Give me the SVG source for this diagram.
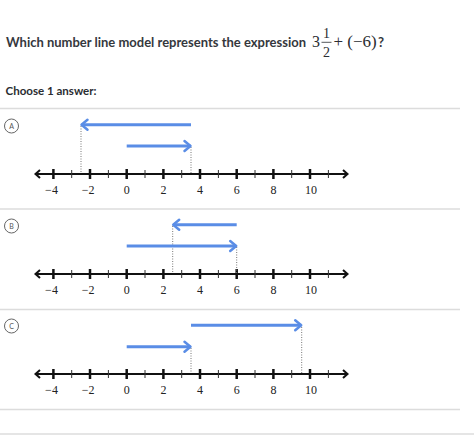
<svg xmlns="http://www.w3.org/2000/svg" xmlns:xlink="http://www.w3.org/1999/xlink" width="474" height="439" viewBox="0 0 474 439">
<style>
.title{font-family:Lato,"Liberation Sans",sans-serif;font-weight:bold;font-size:13.2px;fill:#35383d}
.choose{font-family:Lato,"Liberation Sans",sans-serif;font-weight:bold;font-size:11.7px;fill:#2a2d31}
.num{font-family:"Liberation Serif","DejaVu Serif",serif;font-size:12px;fill:#222;text-anchor:middle}
.sep{stroke:#dcdcdc;stroke-width:1.5}
.axis{stroke:#111;stroke-width:2;fill:none}
.major{stroke:#111;stroke-width:2.5}
.minor{stroke:#333;stroke-width:1}
.blue{stroke:#5a8de6;stroke-width:3;fill:none;marker-end:url(#bh)}
.dot{stroke:#777;stroke-width:1;stroke-dasharray:1,1.5}
.circ{fill:#fff;stroke:#666;stroke-width:1}
.let{font-family:Lato,"Liberation Sans",sans-serif;font-size:7px;fill:#555;text-anchor:middle}
</style>
<defs>
<marker id="bh" markerUnits="userSpaceOnUse" markerWidth="16" markerHeight="16" viewBox="-10 -8 16 16" refX="0" refY="0" orient="auto">
<path d="M-6,-5 L0,0 L-6,5" fill="none" stroke="#5a8de6" stroke-width="2.5" stroke-linejoin="round" stroke-linecap="round"/>
</marker>
<g id="axis">
<line class="axis" x1="36" y1="0" x2="347" y2="0"/>
<path class="axis" d="M40,-4 L35.5,0 L40,4 M343,-4 L347.5,0 L343,4"/>
<g class="major">
<line x1="53.4" y1="-5" x2="53.4" y2="5"/>
<line x1="90" y1="-5" x2="90" y2="5"/>
<line x1="126.7" y1="-5" x2="126.7" y2="5"/>
<line x1="163.4" y1="-5" x2="163.4" y2="5"/>
<line x1="200" y1="-5" x2="200" y2="5"/>
<line x1="236.7" y1="-5" x2="236.7" y2="5"/>
<line x1="273.4" y1="-5" x2="273.4" y2="5"/>
<line x1="310" y1="-5" x2="310" y2="5"/>
</g>
<g class="minor">
<line x1="71.7" y1="-4" x2="71.7" y2="4"/>
<line x1="108.4" y1="-4" x2="108.4" y2="4"/>
<line x1="145" y1="-4" x2="145" y2="4"/>
<line x1="181.7" y1="-4" x2="181.7" y2="4"/>
<line x1="218.4" y1="-4" x2="218.4" y2="4"/>
<line x1="255" y1="-4" x2="255" y2="4"/>
<line x1="291.7" y1="-4" x2="291.7" y2="4"/>
<line x1="328.4" y1="-4" x2="328.4" y2="4"/>
</g>
<g class="num" font-family="'Liberation Serif','DejaVu Serif',serif" font-size="12" text-anchor="middle">
<text x="51.5" y="19.5">−4</text>
<text x="88.2" y="19.5">−2</text>
<text x="126.7" y="19.5">0</text>
<text x="163.4" y="19.5">2</text>
<text x="200" y="19.5">4</text>
<text x="236.7" y="19.5">6</text>
<text x="273.4" y="19.5">8</text>
<text x="311" y="19.5">10</text>
</g>
</g>
</defs>
<rect width="474" height="439" fill="#fff"/>
<g id="question">
<text class="title" x="6" y="47" textLength="300" lengthAdjust="spacingAndGlyphs">Which number line model represents the expression</text>
<g font-family="'Liberation Serif','DejaVu Serif',serif" fill="#2a2d31">
<text x="312" y="47" font-size="16">3</text>
<text x="326.5" y="38" text-anchor="middle" font-size="14">1</text>
<line x1="321.5" y1="42.3" x2="331.5" y2="42.3" stroke="#2a2d31" stroke-width="0.8"/>
<text x="326.5" y="57" text-anchor="middle" font-size="14">2</text>
<text x="333.5" y="47" font-size="17">+ (−6)</text>
</g>
<text class="title" x="378" y="47" font-size="14">?</text>
</g>
<text class="choose" x="5.5" y="95" textLength="91" lengthAdjust="spacingAndGlyphs">Choose 1 answer:</text>
<g id="separators">
<line class="sep" x1="0" y1="108.5" x2="460" y2="108.5"/>
<line class="sep" x1="0" y1="209" x2="460" y2="209"/>
<line class="sep" x1="0" y1="309.5" x2="460" y2="309.5"/>
<line class="sep" x1="0" y1="409.5" x2="460" y2="409.5"/>
<line class="sep" x1="0" y1="434" x2="474" y2="434"/>
</g>
<g id="optionA">
<circle class="circ" cx="11.5" cy="126" r="7"/>
<text class="let" x="11.5" y="128.5">A</text>
<use xlink:href="#axis" transform="translate(0,174)"/>
<line class="dot" x1="81" y1="126" x2="81" y2="173"/>
<line class="dot" x1="191" y1="147" x2="191" y2="173"/>
<line class="blue" x1="191" y1="124.7" x2="81.5" y2="124.7"/>
<line class="blue" x1="126.7" y1="146" x2="190.5" y2="146"/>
</g>
<g id="optionB">
<circle class="circ" cx="11.5" cy="226" r="7"/>
<text class="let" x="11.5" y="228.5">B</text>
<use xlink:href="#axis" transform="translate(0,274)"/>
<line class="dot" x1="172.7" y1="226" x2="172.7" y2="273"/>
<line class="dot" x1="236.7" y1="247" x2="236.7" y2="273"/>
<line class="blue" x1="236.7" y1="224.7" x2="173.2" y2="224.7"/>
<line class="blue" x1="126.7" y1="246" x2="236.2" y2="246"/>
</g>
<g id="optionC">
<circle class="circ" cx="11.5" cy="326" r="7"/>
<text class="let" x="11.5" y="328.5">C</text>
<use xlink:href="#axis" transform="translate(0,374)"/>
<line class="dot" x1="301.7" y1="327" x2="301.7" y2="373"/>
<line class="dot" x1="191" y1="348" x2="191" y2="373"/>
<line class="blue" x1="191" y1="325.3" x2="301.2" y2="325.3"/>
<line class="blue" x1="126.7" y1="346.7" x2="190.5" y2="346.7"/>
</g>
</svg>
